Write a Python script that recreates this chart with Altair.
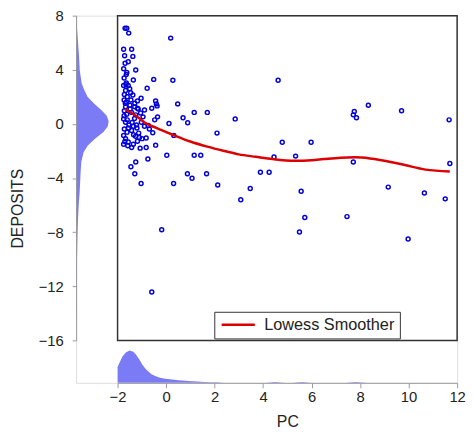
import altair as alt
import pandas as pd

# ---- scatter data (PC vs DEPOSITS) ----
pc = [-1.69, -1.62, -1.54, 0.19, -1.75, -1.42, -1.71, -1.37, -1.56, -1.69,
      -1.75, -1.25, -1.62, -1.64, -1.73, -1.35, -0.51, 0.28, 4.62, -1.64,
      -1.75, -1.56, -0.78, -1.67, -1.46, -1.72, -1.60, -1.37, -1.03, -1.18,
      -1.45, -1.64, -1.73, -0.43, -0.40, 0.48, -0.59, -0.89, -1.15, -1.29,
      -1.48, -1.67, -1.68, -1.49, -1.29, -1.18, -0.37, 1.16, 1.70, -1.72,
      -1.62, -1.42, -1.25, -1.05, -0.95, -0.35, -0.47, 0.70, 0.89, 2.85,
      -1.75, -1.67, -1.53, -1.35, -1.22, -1.02, -0.89, -0.73, -0.69, -0.55,
      0.12, 0.32, -1.72, -1.61, -1.42, -1.34, -1.13, -1.26, -1.18, -0.99,
      -0.82, -1.75, -1.67, -1.56, -1.75, -1.58, -1.42, -1.35, -1.07, -0.82,
      -0.43, 2.10, 4.79, 5.98, 0.03, 1.16, 1.43, -0.75, 4.45, 5.34,
      7.72, 11.70, -1.25, -1.45, -1.29, 0.88, 1.07, 1.67, 3.89, 4.25,
      -1.03, 0.31, 2.13, 3.47, 5.57, 9.16, 10.65, 11.51, 3.08, 5.72,
      7.46, -0.18, 5.50, 9.98, -0.59, 8.34, 7.76, 7.72, 7.85, 9.71,
      11.67,
      -1.73, -1.70, -1.60, -1.50, -1.40, -1.55, -1.30, -1.20, -1.10, -1.65]
deposits = [7.07, 7.07, 6.71, 6.34, 5.52, 5.52, 5.04, 4.99, 4.60, 4.48,
            4.08, 3.99, 3.80, 3.66, 3.39, 3.24, 3.29, 3.22, 3.22, 3.03,
            2.84, 2.84, 2.64, 2.47, 2.30, 2.18, 2.01, 2.13, 1.89, 1.70,
            1.77, 1.62, 1.77, 1.70, 1.48, 1.48, 1.16, 1.03, 1.10, 1.26,
            1.10, 1.26, 1.52, 1.38, 1.52, 1.16, 1.33, 0.85, 0.85, 0.97,
            0.72, 0.85, 0.67, 0.81, 0.52, 0.52, 0.30, 0.45, 0.08, 0.37,
            0.37, 0.12, -0.08, -0.17, -0.08, 0.12, -0.17, -0.12, -0.37, -0.66,
            0.03, -0.85, -0.37, -0.61, -0.48, -0.80, -0.68, -0.92, -1.28, -1.09,
            -1.04, -0.85, -1.09, -1.33, -1.50, -1.62, -1.75, -1.50, -1.79, -1.75,
            -1.57, -0.68, -1.35, -1.35, -2.31, -2.31, -2.31, -2.60, -2.44, -2.38,
            -2.81, -2.93, -2.81, -3.17, -3.69, -3.69, -4.02, -3.69, -3.57, -3.57,
            -4.40, -4.40, -4.51, -4.78, -4.98, -4.67, -5.11, -5.54, -5.60, -6.92,
            -6.85, -7.82, -7.99, -8.50, -12.42, 1.38, 0.92, 0.67, 0.45, 0.97,
            0.30,
            0.60, -1.30, 0.30, 2.60, 0.10, -0.30, 0.40, -0.30, -1.00, 2.90]

# ---- lowess smoother ----
lowess_pc = [-1.7, -1.2, -0.9, -0.4, 0.3, 1.0, 1.7, 2.4, 3.0, 3.7, 4.4,
             5.3, 6.0, 6.5, 7.2, 7.8, 8.4, 9.0, 9.8, 10.7, 11.7]
lowess_dep = [1.1, 0.55, 0.12, -0.3, -0.82, -1.3, -1.68, -2.0, -2.25, -2.43, -2.6,
              -2.72, -2.68, -2.6, -2.5, -2.47, -2.55, -2.72, -3.02, -3.38, -3.52]

# ---- marginal density of DEPOSITS (left) ----
dens_dep_at = [8, 7, 6, 5, 4, 3.5, 3, 2.5, 2, 1.5, 1, 0.6, 0.2, -0.2, -0.6, -1.1,
               -1.6, -2.1, -2.8, -3.5, -4, -5, -6, -7, -8, -9, -10, -11, -12,
               -13, -14, -14.5]
dens_dep = [0.01, 0.03, 0.06, 0.09, 0.11, 0.14, 0.17, 0.25, 0.35, 0.55, 0.78, 0.94,
            1.0, 0.97, 0.84, 0.58, 0.36, 0.23, 0.16, 0.14, 0.13, 0.11, 0.08, 0.06,
            0.045, 0.035, 0.028, 0.022, 0.02, 0.015, 0.008, 0.0]

# ---- marginal density of PC (bottom) ----
dens_pc_at = [-2, -1.8, -1.65, -1.5, -1.35, -1.26, -1.1, -0.99, -0.85, -0.72, -0.6,
              -0.45, -0.25, -0.04, 0.25, 0.5, 0.8, 1.04, 1.3, 1.57, 1.85, 2.1, 2.4,
              4.1, 4.5, 4.9, 5.2, 5.6, 6.0, 7.4, 7.8, 8.3, 12]
dens_pc = [0.49, 0.82, 0.95, 1.0, 0.96, 0.89, 0.72, 0.58, 0.44, 0.34, 0.27,
           0.21, 0.16, 0.13, 0.10, 0.08, 0.065, 0.052, 0.04, 0.03, 0.02, 0.015, 0.0,
           0.0, 0.025, 0.0, 0.0, 0.03, 0.0, 0.0, 0.03, 0.0, 0.0]

# axis extents
pc_ticks = [-2, 0, 2, 4, 6, 8, 10, 12]
dep_ticks = [8, 4, 0, -4, -8, -12, -16]
frame = pd.DataFrame({"x0": [-2], "x1": [12], "y0": [-16], "y1": [8]})

scatter_df = pd.DataFrame({"PC": pc, "DEPOSITS": deposits})
lowess_df = pd.DataFrame({"PC": lowess_pc, "DEPOSITS": lowess_dep,
                          "series": ["Lowess Smoother"] * len(lowess_pc)})
ddep_df = pd.DataFrame({"DEPOSITS": dens_dep_at, "density": dens_dep})
dpc_df = pd.DataFrame({"PC": dens_pc_at, "density": dens_pc})

def xs():
    return alt.Scale(domain=[-2, 12], range=[42, 386], nice=False, zero=False)

def ys():
    return alt.Scale(domain=[-16, 8], range=[329, 0], nice=False, zero=False)

AX = dict(domainColor="#9a9a9a", tickColor="#9a9a9a", labelColor="#222222",
          titleColor="#222222", grid=False, labelFontSize=15, titleFontSize=16,
          titleFontWeight="normal", labelFont="Liberation Sans",
          titleFont="Liberation Sans", zindex=1)

frame_layer = alt.Chart(frame).mark_rect(fillOpacity=0, stroke="#333333",
                                         strokeWidth=1.5).encode(
    x=alt.X("x0:Q", scale=xs(), axis=None),
    x2="x1:Q",
    y=alt.Y("y0:Q", scale=ys(), axis=None),
    y2="y1:Q",
)

points = alt.Chart(scatter_df).mark_point(shape="circle", filled=False, size=16,
                                          strokeWidth=1.5, color="#0000d8",
                                          opacity=1).encode(
    x=alt.X("PC:Q", scale=xs(), axis=None),
    y=alt.Y("DEPOSITS:Q", scale=ys(), axis=None),
)

lowess = alt.Chart(lowess_df).mark_line(strokeWidth=2.5, interpolate="monotone").encode(
    x=alt.X("PC:Q", scale=xs(), axis=None),
    y=alt.Y("DEPOSITS:Q", scale=ys(), axis=None),
    color=alt.Color("series:N",
                    scale=alt.Scale(domain=["Lowess Smoother"], range=["#dd0000"]),
                    legend=alt.Legend(title=None, orient="none", legendX=140,
                                      legendY=300, symbolType="M-2.8,0H2.8",
                                      symbolSize=144, symbolStrokeWidth=2.5,
                                      symbolOffset=11,
                                      labelFontSize=16.5, labelColor="#222222",
                                      labelFont="Liberation Sans",
                                      strokeColor="#333333", fillColor="white",
                                      padding=5, labelOffset=18, cornerRadius=0)),
)

left_dens = alt.Chart(ddep_df).mark_area(orient="horizontal", color="#7b7bf5",
                                         opacity=1).encode(
    x=alt.X("density:Q", scale=alt.Scale(domain=[0, 1], range=[0, 33]), axis=None),
    y=alt.Y("DEPOSITS:Q", scale=ys(),
            axis=alt.Axis(orient="left", values=dep_ticks, title="DEPOSITS",
                          tickSize=4, labelPadding=9, titleAngle=270,
                          titleX=-59, titleY=195, titleAlign="center",
                          titleBaseline="middle", labelOverlap=False, **AX)),
)

bottom_dens = alt.Chart(dpc_df).mark_area(color="#7b7bf5", opacity=1).encode(
    x=alt.X("PC:Q", scale=xs(),
            axis=alt.Axis(orient="bottom", values=pc_ticks, title="PC",
                          tickSize=5, labelPadding=2, titlePadding=9,
                          labelFlush=False, labelOverlap=False, **AX)),
    y=alt.Y("density:Q", scale=alt.Scale(domain=[0, 1], range=[372, 339.3]),
            axis=None),
)

chart = alt.layer(left_dens, bottom_dens, frame_layer, points, lowess).resolve_scale(
    x="independent", y="independent", color="independent"
).properties(
    width=386, height=372,
    autosize="none",
    padding={"left": 69, "top": 5, "right": 9, "bottom": 44},
).configure_view(stroke=None).configure(font="Liberation Sans")

chart.save("out.html", embed_options={"renderer": "svg", "actions": False})
